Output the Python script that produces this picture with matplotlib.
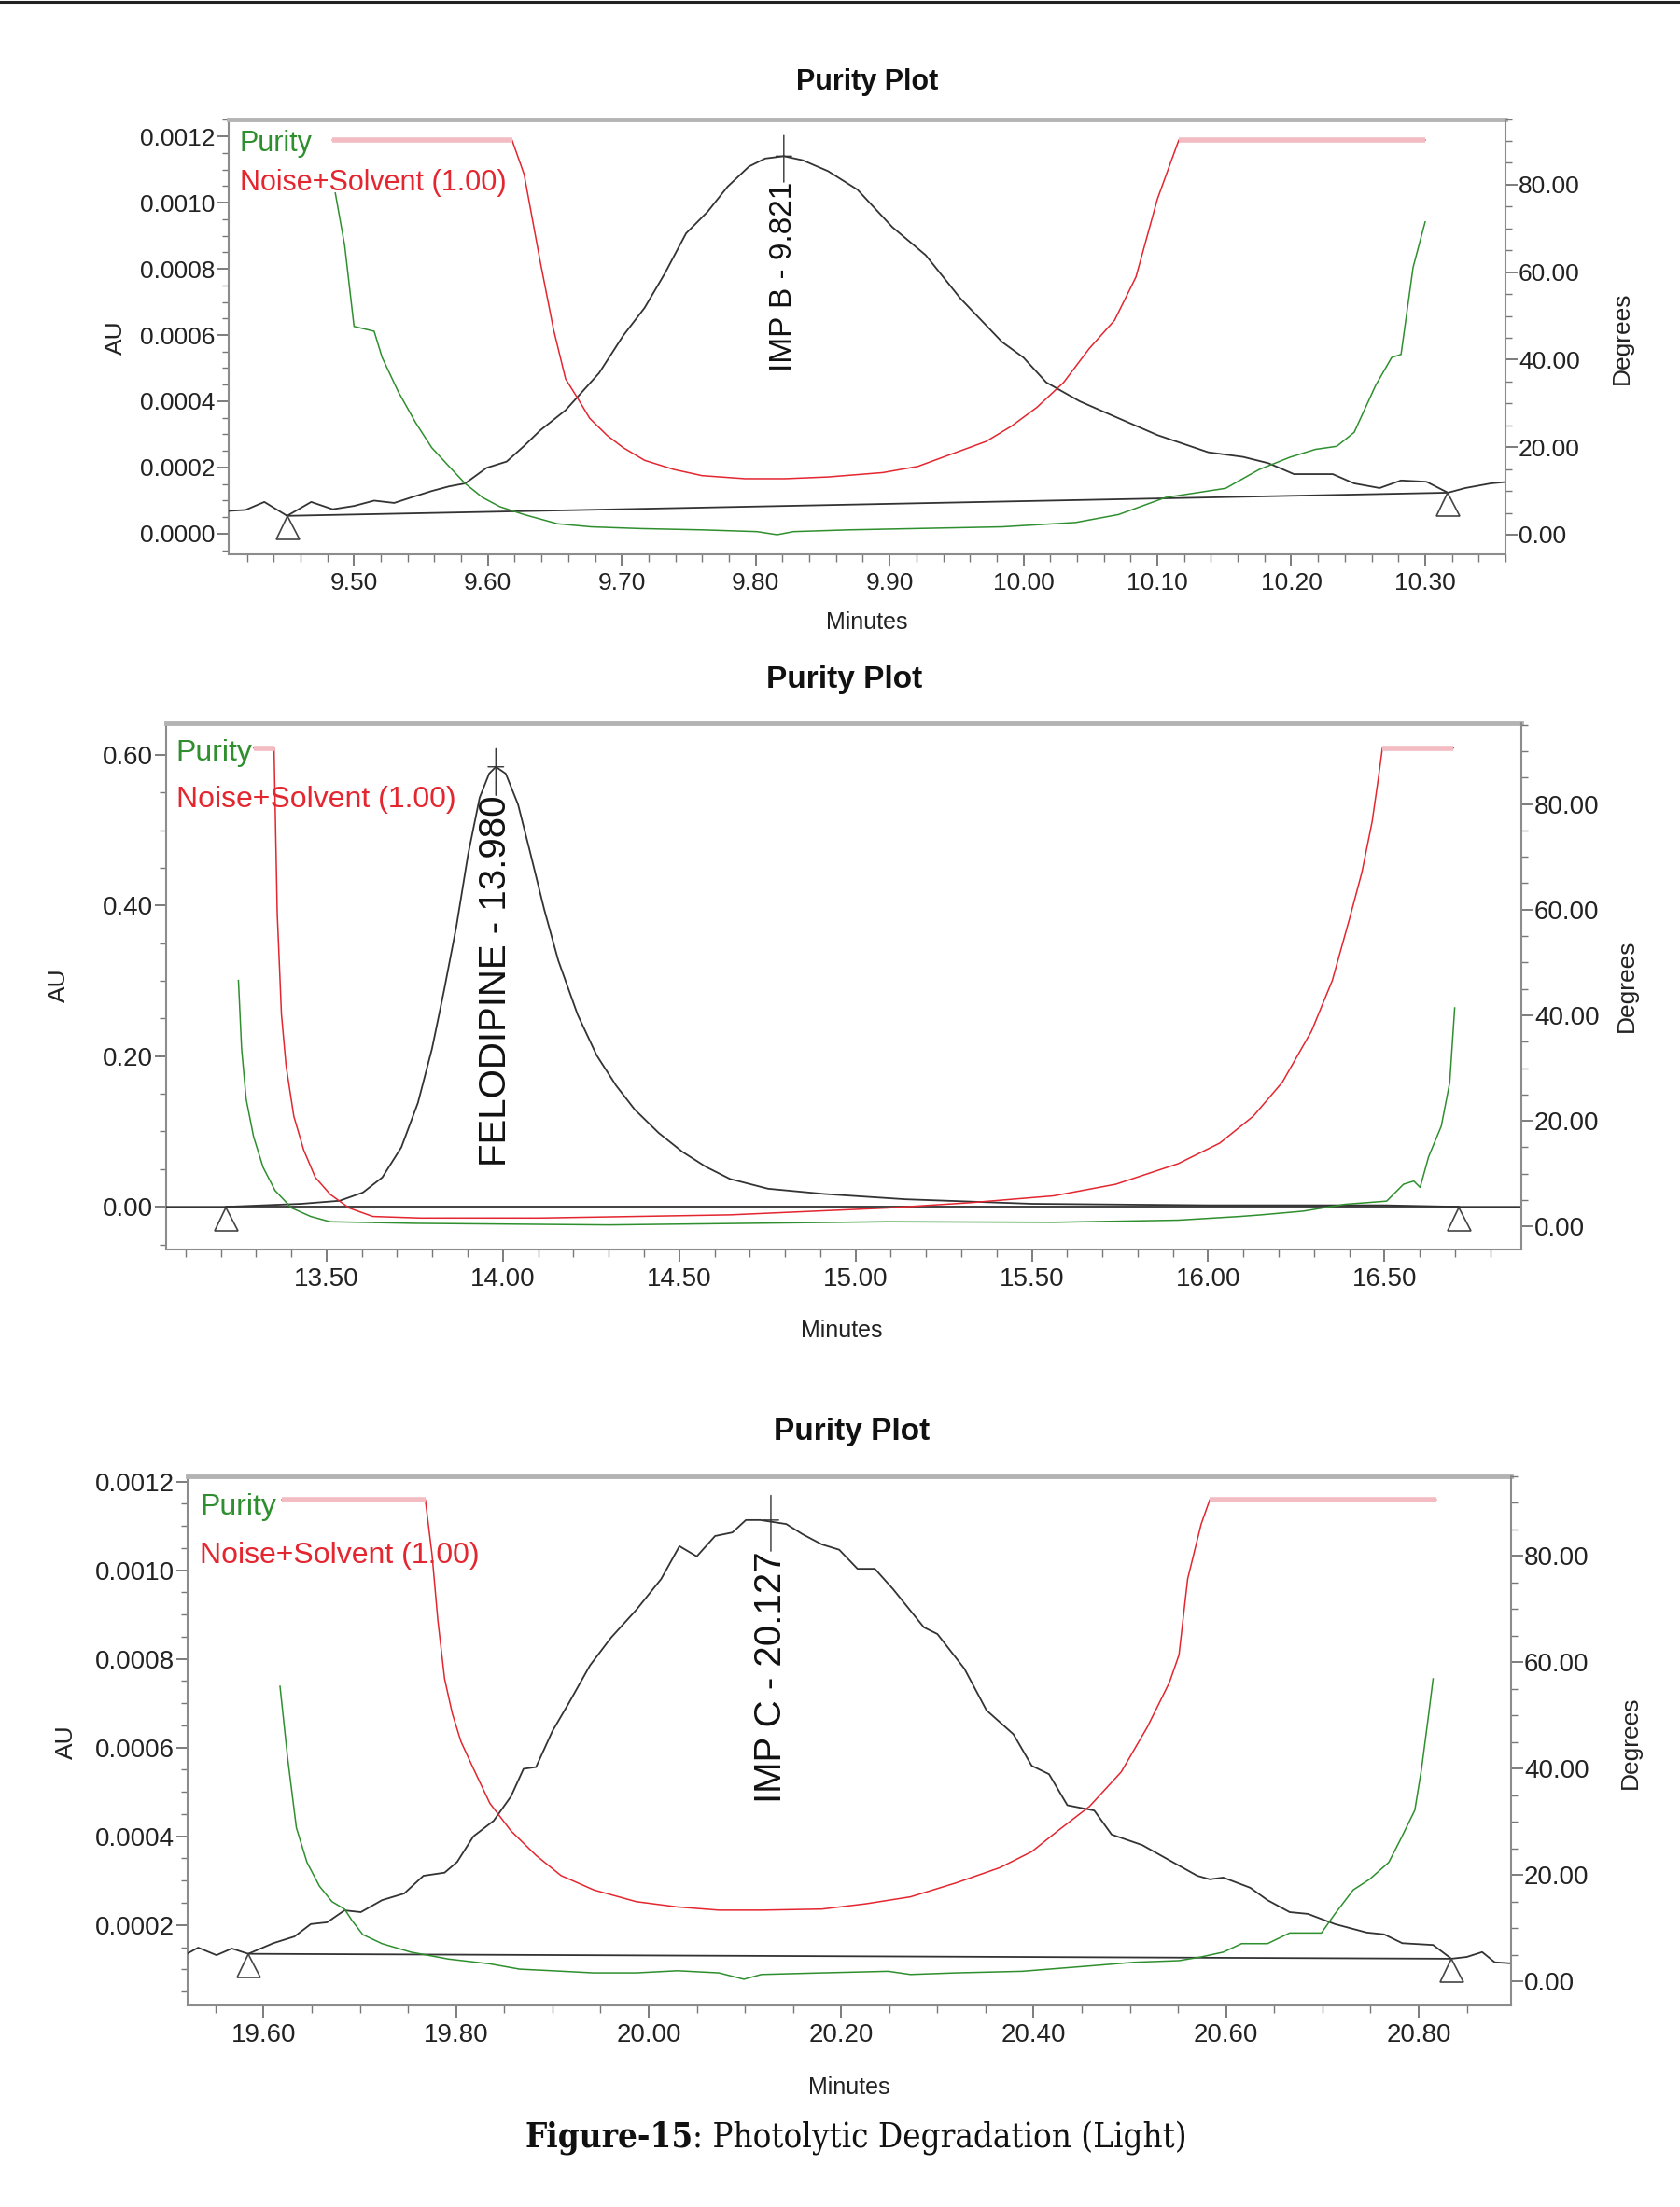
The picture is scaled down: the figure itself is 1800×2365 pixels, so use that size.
import matplotlib
matplotlib.use("Agg")
import matplotlib.pyplot as plt
import matplotlib.transforms as mtransforms
from matplotlib.lines import Line2D
from matplotlib.ticker import FixedLocator, MultipleLocator, FormatStrFormatter

plt.rcParams['font.family'] = ['Liberation Sans', 'DejaVu Sans']

# ---------------- panel 1 : IMP B ----------------
impb_time = [9.403, 9.419, 9.433, 9.450, 9.468, 9.484, 9.500, 9.515, 9.530, 9.543,
             9.558, 9.571, 9.583, 9.599, 9.614, 9.627, 9.639, 9.658, 9.683, 9.701,
             9.717, 9.732, 9.748, 9.764, 9.779, 9.795, 9.807, 9.821, 9.835, 9.854,
             9.876, 9.902, 9.927, 9.953, 9.984, 10.000, 10.017, 10.042, 10.068, 10.100,
             10.138, 10.164, 10.183, 10.202, 10.231, 10.247, 10.266, 10.282, 10.301, 10.317,
             10.330, 10.349, 10.362]
impb_au = [0.000068, 0.000072, 0.000096, 0.000054, 0.000096, 0.000074, 0.000084, 0.000100, 0.000093, 0.000110,
           0.000129, 0.000143, 0.000152, 0.000199, 0.000218, 0.000265, 0.000312, 0.000373, 0.000485, 0.000598,
           0.000682, 0.000785, 0.000907, 0.000972, 0.001048, 0.001109, 0.001133, 0.001140, 0.001128, 0.001095,
           0.001039, 0.000926, 0.000841, 0.000710, 0.000579, 0.000532, 0.000457, 0.000400, 0.000354, 0.000298,
           0.000246, 0.000232, 0.000213, 0.000180, 0.000180, 0.000152, 0.000138, 0.000161, 0.000157, 0.000124,
           0.000138, 0.000152, 0.000157]
impb_base_time = [9.450, 10.317]
impb_base_au = [0.000054, 0.000124]
impb_noise_time = [9.484, 9.618, 9.627, 9.639, 9.649, 9.658, 9.667, 9.676, 9.689, 9.701,
                   9.717, 9.739, 9.760, 9.792, 9.822, 9.854, 9.895, 9.921, 9.946, 9.972,
                   9.991, 10.010, 10.030, 10.049, 10.068, 10.084, 10.100, 10.116, 10.300]
impb_noise_deg = [90.2, 90.2, 82.4, 62.5, 46.9, 35.6, 31.2, 26.6, 22.7, 19.9,
                  17.0, 14.9, 13.5, 12.8, 12.8, 13.2, 14.2, 15.6, 18.4, 21.3,
                  24.8, 29.1, 34.8, 42.5, 49.0, 58.9, 76.7, 90.2, 90.2]
impb_purity_time = [9.486, 9.493, 9.500, 9.515, 9.521, 9.533, 9.546, 9.558, 9.571, 9.583,
                    9.596, 9.609, 9.627, 9.652, 9.677, 9.714, 9.760, 9.801, 9.816, 9.828,
                    9.869, 9.984, 10.039, 10.071, 10.106, 10.151, 10.176, 10.199, 10.218, 10.234,
                    10.247, 10.263, 10.275, 10.282, 10.291, 10.300]
impb_purity_deg = [78.1, 66.1, 47.6, 46.5, 40.5, 32.7, 25.6, 19.9, 15.6, 11.7,
                   8.5, 6.4, 4.6, 2.5, 1.8, 1.4, 1.1, 0.7, 0.0, 0.7,
                   1.1, 1.8, 2.8, 4.6, 8.5, 10.6, 14.9, 17.7, 19.5, 20.2,
                   23.4, 34.1, 40.5, 41.2, 61.1, 71.5]
impb_xticks = [9.50, 9.60, 9.70, 9.80, 9.90, 10.00, 10.10, 10.20, 10.30]
impb_auticks = [0.0000, 0.0002, 0.0004, 0.0006, 0.0008, 0.0010, 0.0012]
impb_peak_time = 9.821
impb_peak_label = "IMP B - 9.821"

# ---------------- panel 2 : FELODIPINE ----------------
felo_time = [13.045, 13.215, 13.429, 13.537, 13.603, 13.658, 13.712, 13.759, 13.799, 13.833,
             13.868, 13.901, 13.934, 13.961, 13.980, 14.008, 14.043, 14.077, 14.117, 14.157,
             14.212, 14.266, 14.321, 14.374, 14.442, 14.509, 14.576, 14.644, 14.752, 14.913,
             15.141, 15.500, 16.000, 16.500, 16.711, 16.888]
felo_au = [0.000, 0.000, 0.004, 0.008, 0.019, 0.039, 0.079, 0.138, 0.210, 0.287,
           0.372, 0.467, 0.543, 0.575, 0.584, 0.575, 0.534, 0.471, 0.395, 0.327,
           0.255, 0.201, 0.161, 0.129, 0.098, 0.073, 0.053, 0.037, 0.024, 0.017,
           0.010, 0.004, 0.002, 0.002, 0.000, 0.000]
felo_base_time = [13.215, 16.711]
felo_base_au = [0.000, 0.000]
felo_noise_time = [13.294, 13.351, 13.360, 13.372, 13.385, 13.407, 13.435, 13.468, 13.510, 13.564,
                   13.631, 13.766, 14.104, 14.644, 15.088, 15.324, 15.561, 15.738, 15.915, 16.033,
                   16.128, 16.210, 16.293, 16.352, 16.400, 16.436, 16.465, 16.483, 16.494, 16.695]
felo_noise_deg = [90.6, 90.6, 59.4, 40.2, 30.5, 20.9, 14.5, 9.3, 6.1, 3.5,
                  1.9, 1.6, 1.6, 2.2, 3.5, 4.5, 5.8, 8.0, 11.9, 15.8,
                  20.9, 27.3, 37.0, 46.6, 58.1, 67.1, 76.7, 85.1, 90.6, 90.6]
felo_purity_time = [13.250, 13.259, 13.272, 13.293, 13.320, 13.354, 13.401, 13.455, 13.510, 13.750,
                    14.300, 15.088, 15.561, 15.915, 16.090, 16.150, 16.269, 16.388, 16.506, 16.554,
                    16.583, 16.601, 16.625, 16.661, 16.685, 16.699]
felo_purity_deg = [46.6, 33.7, 24.1, 17.0, 11.2, 6.8, 3.5, 1.9, 0.9, 0.6,
                   0.3, 0.9, 0.8, 1.2, 1.9, 2.2, 2.9, 4.2, 4.8, 8.0,
                   8.6, 7.4, 13.2, 19.0, 27.3, 41.4]
felo_xticks = [13.50, 14.00, 14.50, 15.00, 15.50, 16.00, 16.50]
felo_auticks = [0.00, 0.20, 0.40, 0.60]
felo_peak_time = 13.980
felo_peak_label = "FELODIPINE - 13.980"

# ---------------- panel 3 : IMP C ----------------
impc_time = [19.511, 19.532, 19.551, 19.567, 19.584, 19.610, 19.632, 19.649, 19.666, 19.684,
             19.701, 19.723, 19.746, 19.766, 19.788, 19.801, 19.818, 19.839, 19.857, 19.870,
             19.883, 19.900, 19.917, 19.939, 19.961, 19.987, 20.013, 20.032, 20.050, 20.069,
             20.087, 20.101, 20.116, 20.143, 20.160, 20.180, 20.198, 20.217, 20.235, 20.254,
             20.286, 20.300, 20.328, 20.351, 20.379, 20.398, 20.416, 20.435, 20.463, 20.481,
             20.513, 20.541, 20.570, 20.583, 20.597, 20.625, 20.643, 20.666, 20.685, 20.713,
             20.746, 20.764, 20.783, 20.815, 20.834, 20.850, 20.866, 20.879, 20.907]
impc_au = [0.000124, 0.000149, 0.000132, 0.000147, 0.000135, 0.000159, 0.000174, 0.000202, 0.000206, 0.000233,
           0.000229, 0.000256, 0.000271, 0.000311, 0.000318, 0.000342, 0.000400, 0.000435, 0.000490, 0.000552,
           0.000556, 0.000637, 0.000700, 0.000785, 0.000848, 0.000910, 0.000980, 0.001054, 0.001031, 0.001077,
           0.001085, 0.001113, 0.001113, 0.001104, 0.001081, 0.001058, 0.001046, 0.001003, 0.001003, 0.000957,
           0.000871, 0.000856, 0.000778, 0.000684, 0.000630, 0.000559, 0.000540, 0.000470, 0.000458, 0.000404,
           0.000380, 0.000346, 0.000311, 0.000303, 0.000307, 0.000284, 0.000256, 0.000229, 0.000225, 0.000202,
           0.000183, 0.000179, 0.000159, 0.000155, 0.000124, 0.000128, 0.000139, 0.000116, 0.000112]
impc_base_time = [19.584, 20.834]
impc_base_au = [0.000135, 0.000124]
impc_noise_time = [19.619, 19.768, 19.775, 19.781, 19.788, 19.796, 19.805, 19.818, 19.835, 19.857,
                   19.883, 19.909, 19.943, 19.987, 20.030, 20.073, 20.117, 20.180, 20.226, 20.272,
                   20.319, 20.365, 20.398, 20.425, 20.458, 20.491, 20.518, 20.541, 20.551, 20.560,
                   20.574, 20.583, 20.818]
impc_noise_deg = [90.6, 90.6, 80.2, 67.9, 56.9, 50.4, 45.1, 40.0, 33.5, 28.3,
                  23.7, 19.9, 17.2, 15.0, 14.0, 13.4, 13.4, 13.6, 14.6, 15.9,
                  18.5, 21.4, 24.4, 28.3, 32.9, 39.4, 47.8, 56.2, 61.4, 75.7,
                  86.0, 90.6, 90.6]
impc_purity_time = [19.617, 19.625, 19.634, 19.645, 19.658, 19.671, 19.684, 19.692, 19.703, 19.723,
                    19.753, 19.792, 19.835, 19.866, 19.900, 19.943, 19.987, 20.030, 20.073, 20.099,
                    20.117, 20.180, 20.249, 20.272, 20.319, 20.388, 20.458, 20.505, 20.551, 20.574,
                    20.597, 20.616, 20.643, 20.666, 20.699, 20.713, 20.732, 20.749, 20.769, 20.782,
                    20.796, 20.803, 20.810, 20.815]
impc_purity_deg = [55.5, 41.9, 28.9, 22.4, 17.9, 15.0, 13.6, 11.4, 8.8, 7.1,
                   5.5, 4.2, 3.3, 2.3, 2.0, 1.6, 1.6, 2.0, 1.6, 0.4,
                   1.3, 1.6, 1.9, 1.3, 1.6, 1.9, 2.9, 3.6, 3.9, 4.6,
                   5.5, 7.1, 7.1, 9.1, 9.1, 12.7, 17.2, 19.2, 22.4, 27.0,
                   32.2, 40.0, 49.7, 56.9]
impc_xticks = [19.60, 19.80, 20.00, 20.20, 20.40, 20.60, 20.80]
impc_auticks = [0.0002, 0.0004, 0.0006, 0.0008, 0.0010, 0.0012]
impc_peak_time = 20.127
impc_peak_label = "IMP C - 20.127"

deg_ticks = [0, 20, 40, 60, 80]
legend_labels = ["Purity", "Noise+Solvent (1.00)"]
title_text = "Purity Plot"
caption_bold = "Figure-15"
caption_rest = ": Photolytic Degradation (Light)"

W, H = 1800, 2365
BLACK = '#333333'
RED = '#e3262f'
PINK = '#f3bcc2'
GREEN = '#2f8f2f'
SPINE = '#8c8c8c'

fig = plt.figure(figsize=(W / 100, H / 100), dpi=100)
fig.patch.set_facecolor('white')
fig.add_artist(Line2D([0, 1], [0.9993, 0.9993], color='#222222', lw=2.2))


def px_rect(left, top, right, bottom):
    return [left / W, 1 - bottom / H, (right - left) / W, (bottom - top) / H]


def draw_panel(p):
    ax = fig.add_axes(px_rect(*p['box']))
    ax2 = ax.twinx()
    ax.set_xlim(*p['xlim'])
    ax.set_ylim(*p['aulim'])
    ax2.set_ylim(*p['deglim'])

    # chromatogram, baseline and integration marks (AU axis)
    ax.plot(p['t'], p['au'], color=BLACK, lw=1.3, zorder=3)
    ax.plot(p['bt'], p['bau'], color=BLACK, lw=1.3, zorder=3)
    tri = mtransforms.offset_copy(ax.transData, fig=fig, x=0, y=-9, units='points')
    ax.plot(p['bt'], p['bau'], ls='none', marker='^', ms=18, mfc='white',
            mec='#444444', mew=1.2, transform=tri, zorder=4, clip_on=False)

    # purity / threshold curves (degree axis)
    top = max(p['nd'])
    ax2.plot(p['nt'], p['nd'], color=RED, lw=1.1, zorder=2)
    for i in range(len(p['nt']) - 1):
        if p['nd'][i] == top and p['nd'][i + 1] == top:
            ax2.plot(p['nt'][i:i + 2], p['nd'][i:i + 2], color=PINK, lw=4,
                     solid_capstyle='butt', zorder=2)
    ax2.plot(p['pt'], p['pd'], color=GREEN, lw=1.1, zorder=2)

    # peak marker + label
    pk = max(p['au'])
    up, dn, half = p['mark']
    for xy_off in [(0, up), (0, -dn), (-half, 0), (half, 0)]:
        ax2.annotate('', xy=(p['peak_t'], pk), xycoords=ax.transData,
                     xytext=xy_off, textcoords='offset points',
                     arrowprops=dict(arrowstyle='-', color=BLACK, lw=1.0,
                                     shrinkA=0, shrinkB=0))
    ax2.annotate(p['peak_label'], xy=(p['peak_t'], pk), xycoords=ax.transData,
                 xytext=(0, -dn), textcoords='offset points', rotation=90,
                 ha='center', va='top', fontsize=p['lab_fs'], color='#111111')

    # legend texts
    lx, ly1, ly2 = p['leg']
    ax2.text(lx, ly1, legend_labels[0], transform=ax.transAxes, color=GREEN,
             fontsize=p['leg_fs'], va='center', ha='left')
    ax2.text(lx, ly2, legend_labels[1], transform=ax.transAxes, color=RED,
             fontsize=p['leg_fs'], va='center', ha='left')

    # ticks
    ax.xaxis.set_major_locator(FixedLocator(p['xticks']))
    ax.xaxis.set_minor_locator(MultipleLocator(p['xminor']))
    ax.xaxis.set_major_formatter(FormatStrFormatter('%.2f'))
    ax.yaxis.set_major_locator(FixedLocator(p['auticks']))
    ax.yaxis.set_minor_locator(MultipleLocator(p['auminor']))
    ax.yaxis.set_major_formatter(FormatStrFormatter(p['aufmt']))
    ax2.yaxis.set_major_locator(FixedLocator(deg_ticks))
    ax2.yaxis.set_minor_locator(MultipleLocator(5))
    ax2.yaxis.set_major_formatter(FormatStrFormatter('%.2f'))
    fs = p['tick_fs']
    ax.tick_params(axis='x', which='major', length=9, width=1.2, color='#666666',
                   labelsize=fs, labelcolor='#222222', pad=5)
    ax.tick_params(axis='x', which='minor', length=6, width=1.0, color='#777777')
    ax.tick_params(axis='y', which='major', length=9, width=1.2, color='#666666',
                   labelsize=fs, labelcolor='#222222', pad=1)
    ax.tick_params(axis='y', which='minor', length=5, width=1.0, color='#777777')
    ax2.tick_params(axis='y', which='major', length=9, width=1.2, color='#666666',
                    labelsize=fs, labelcolor='#222222', pad=1)
    ax2.tick_params(axis='y', which='minor', length=5, width=1.0, color='#777777')

    for s in ['left', 'bottom']:
        ax.spines[s].set_color(SPINE)
        ax.spines[s].set_linewidth(1.5)
    ax.spines['right'].set_visible(False)
    ax.spines['top'].set_color('#b3b3b3')
    ax.spines['top'].set_linewidth(3.5)
    for s in ['left', 'bottom', 'top']:
        ax2.spines[s].set_visible(False)
    ax2.spines['right'].set_color(SPINE)
    ax2.spines['right'].set_linewidth(1.5)

    # titles / axis names
    tx, ty = p['title_xy']
    fig.text(tx / W, 1 - ty / H, title_text, fontsize=p['title_fs'], fontweight='bold',
             ha='center', va='center', color='#111111')
    mx, my = p['xlabel_xy']
    fig.text(mx / W, 1 - my / H, "Minutes", fontsize=18, ha='center', va='center',
             color='#222222')
    ax_x, dg_x, yy = p['ylab_xy']
    fig.text(ax_x / W, 1 - yy / H, "AU", fontsize=19, rotation=90, ha='center',
             va='center', color='#222222')
    fig.text(dg_x / W, 1 - yy / H, "Degrees", fontsize=19, rotation=90, ha='center',
             va='center', color='#222222')


panels = [
    dict(box=(244.5, 127.6, 1613, 593.6), xlim=(9.406, 10.360),
         aulim=(-0.000061, 0.001252), deglim=(-4.4, 95.0),
         t=impb_time, au=impb_au, bt=impb_base_time, bau=impb_base_au,
         nt=impb_noise_time, nd=impb_noise_deg, pt=impb_purity_time, pd=impb_purity_deg,
         xticks=impb_xticks, xminor=0.02, auticks=impb_auticks, auminor=0.00005, aufmt='%.4f',
         peak_t=impb_peak_time, peak_label=impb_peak_label, lab_fs=24, mark=(16, 20, 6),
         leg=(0.009, 0.944, 0.854), leg_fs=22, tick_fs=19,
         title_xy=(929, 88), title_fs=22, xlabel_xy=(929, 667), ylab_xy=(124, 1738, 362)),
    dict(box=(178, 775, 1630, 1339), xlim=(13.045, 16.888),
         aulim=(-0.0567, 0.6419), deglim=(-4.36, 95.3),
         t=felo_time, au=felo_au, bt=felo_base_time, bau=felo_base_au,
         nt=felo_noise_time, nd=felo_noise_deg, pt=felo_purity_time, pd=felo_purity_deg,
         xticks=felo_xticks, xminor=0.1, auticks=felo_auticks, auminor=0.05, aufmt='%.2f',
         peak_t=felo_peak_time, peak_label=felo_peak_label, lab_fs=29, mark=(14, 22, 6),
         leg=(0.0073, 0.943, 0.855), leg_fs=23, tick_fs=20,
         title_xy=(905, 729), title_fs=24, xlabel_xy=(902, 1426), ylab_xy=(63, 1743, 1056)),
    dict(box=(201, 1582, 1619, 2149), xlim=(19.521, 20.896),
         aulim=(0.0000186, 0.0012116), deglim=(-4.53, 95.0),
         t=impc_time, au=impc_au, bt=impc_base_time, bau=impc_base_au,
         nt=impc_noise_time, nd=impc_noise_deg, pt=impc_purity_time, pd=impc_purity_deg,
         xticks=impc_xticks, xminor=0.05, auticks=impc_auticks, auminor=0.00005, aufmt='%.4f',
         peak_t=impc_peak_time, peak_label=impc_peak_label, lab_fs=29, mark=(19, 24, 6),
         leg=(0.0092, 0.942, 0.850), leg_fs=23, tick_fs=20,
         title_xy=(913, 1535), title_fs=24, xlabel_xy=(910, 2237), ylab_xy=(71, 1747, 1867)),
]

for p in panels:
    draw_panel(p)

# caption: bold figure number + regular description, centred as one line
cap_y = 1 - 2291 / H
c1 = fig.text(0, cap_y, caption_bold, fontsize=26.3, fontweight='bold', family='DejaVu Serif',
              fontstretch='condensed', ha='left', va='center', color='#111111')
c2 = fig.text(0, cap_y, caption_rest, fontsize=26.3, family='DejaVu Serif',
              fontstretch='condensed', ha='left', va='center', color='#111111')
r = fig.canvas.get_renderer()
w1 = c1.get_window_extent(r).width
w2 = c2.get_window_extent(r).width
x0 = 917 - (w1 + w2) / 2
c1.set_x(x0 / W)
c2.set_x((x0 + w1) / W)

fig.savefig('out.png', dpi=100)
